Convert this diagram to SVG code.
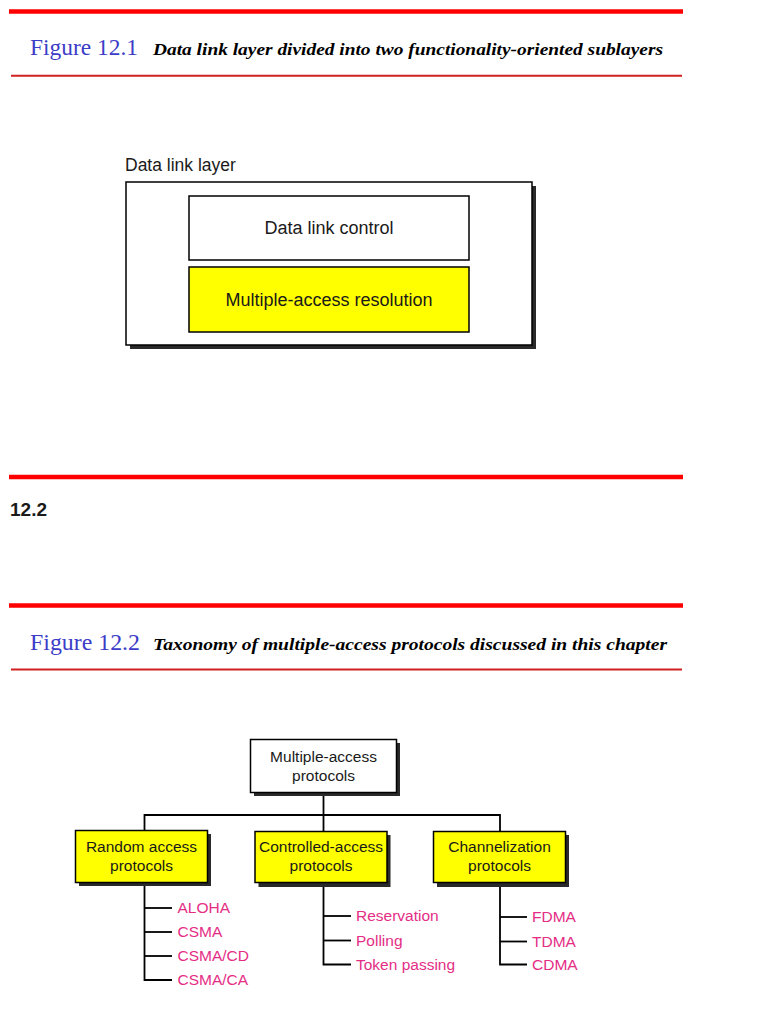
<svg xmlns="http://www.w3.org/2000/svg" width="768" height="1024" viewBox="0 0 768 1024">
<style>
.thick{stroke:#ff0000;stroke-width:4.5;fill:none}
.thin{stroke:#d02020;stroke-width:2;fill:none}
.fig{font-family:"Liberation Serif",serif;font-size:23px;fill:#3c3cc8}
.cap{font-family:"Liberation Serif",serif;font-size:16px;font-weight:bold;font-style:italic;fill:#000}
.box{fill:#fff;stroke:#000;stroke-width:1.5}
.ybox{fill:#ffff00;stroke:#000;stroke-width:1.5}
.shadow{fill:#2a2a2a}
.t{font-family:"Liberation Sans",Arial,sans-serif;fill:#1a1a1a}
.t17{font-size:17.5px}
.t18{font-size:18px}
.t15{font-size:15.5px;text-anchor:middle}
.lbl{font-family:"Liberation Sans",Arial,sans-serif;font-size:15.5px;fill:#e42d85}
.conn{stroke:#000;stroke-width:1.8;fill:none}
</style>
<rect width="768" height="1024" fill="#fff"/>
<g id="rules">
<line class="thick" x1="9" y1="11.5" x2="683" y2="11.5"/>
<line class="thin" x1="11" y1="75.7" x2="682" y2="75.7"/>
<line class="thick" x1="9" y1="477" x2="683" y2="477"/>
<line class="thick" x1="9" y1="605.5" x2="683" y2="605.5"/>
<line class="thin" x1="11" y1="669.5" x2="682" y2="669.5"/>
</g>
<g id="captions">
<text class="fig" x="30" y="55" textLength="108" lengthAdjust="spacingAndGlyphs">Figure 12.1</text>
<text class="cap" x="153" y="55" textLength="510" lengthAdjust="spacingAndGlyphs">Data link layer divided into two functionality-oriented sublayers</text>
<text x="10" y="516" font-family="'Liberation Sans',Arial,sans-serif" font-size="19" font-weight="bold" fill="#1a1a1a">12.2</text>
<text class="fig" x="30" y="650" textLength="110" lengthAdjust="spacingAndGlyphs">Figure 12.2</text>
<text class="cap" x="153" y="650" textLength="514" lengthAdjust="spacingAndGlyphs">Taxonomy of multiple-access protocols discussed in this chapter</text>
</g>
<g id="data-link-layer">
<text class="t t17" x="125" y="171">Data link layer</text>
<rect class="shadow" x="130" y="186" width="406" height="163"/>
<rect class="box" x="126" y="182" width="406" height="163"/>
</g>
<g id="data-link-control">
<rect class="box" x="189" y="196" width="280" height="64"/>
<text class="t t18" x="329" y="234" text-anchor="middle">Data link control</text>
</g>
<g id="mar">
<rect class="ybox" x="189" y="267" width="280" height="65"/>
<text class="t t18" x="329" y="306" text-anchor="middle">Multiple-access resolution</text>
</g>
<g id="connectors">
<line class="conn" x1="323.5" y1="792" x2="323.5" y2="831"/>
<polyline class="conn" points="144.5,831 144.5,815 500,815 500,831"/>
<polyline class="conn" points="144.5,883 144.5,980 172,980"/>
<line class="conn" x1="144.5" y1="908" x2="172" y2="908"/>
<line class="conn" x1="144.5" y1="932" x2="172" y2="932"/>
<line class="conn" x1="144.5" y1="956" x2="172" y2="956"/>
<polyline class="conn" points="323.5,883 323.5,964.5 351,964.5"/>
<line class="conn" x1="323.5" y1="916" x2="351" y2="916"/>
<line class="conn" x1="323.5" y1="940.5" x2="351" y2="940.5"/>
<polyline class="conn" points="500,883 500,964.5 527,964.5"/>
<line class="conn" x1="500" y1="917" x2="527" y2="917"/>
<line class="conn" x1="500" y1="941.5" x2="527" y2="941.5"/>
</g>
<g id="root">
<rect class="shadow" x="254" y="743" width="146" height="53"/>
<rect class="box" x="250.5" y="739.5" width="146" height="53"/>
<text class="t t15" x="323.5" y="762">Multiple-access</text>
<text class="t t15" x="323.5" y="781">protocols</text>
</g>
<g id="random">
<rect class="shadow" x="79" y="834" width="132" height="52"/>
<rect class="ybox" x="75.5" y="830.5" width="132" height="52"/>
<text class="t t15" x="141.5" y="852">Random access</text>
<text class="t t15" x="141.5" y="871">protocols</text>
</g>
<g id="controlled">
<rect class="shadow" x="258.5" y="835" width="132" height="52"/>
<rect class="ybox" x="255" y="831.5" width="132" height="51"/>
<text class="t t15" x="321" y="852">Controlled-access</text>
<text class="t t15" x="321" y="871">protocols</text>
</g>
<g id="channelization">
<rect class="shadow" x="437" y="835" width="132" height="52"/>
<rect class="ybox" x="433.5" y="831.5" width="132" height="51"/>
<text class="t t15" x="499.5" y="852">Channelization</text>
<text class="t t15" x="499.5" y="871">protocols</text>
</g>
<g id="labels">
<text class="lbl" x="177.5" y="913">ALOHA</text>
<text class="lbl" x="177.5" y="937">CSMA</text>
<text class="lbl" x="177.5" y="961">CSMA/CD</text>
<text class="lbl" x="177.5" y="985">CSMA/CA</text>
<text class="lbl" x="356" y="921">Reservation</text>
<text class="lbl" x="356" y="945.5">Polling</text>
<text class="lbl" x="356" y="969.5">Token passing</text>
<text class="lbl" x="532" y="922">FDMA</text>
<text class="lbl" x="532" y="946.5">TDMA</text>
<text class="lbl" x="532" y="969.5">CDMA</text>
</g>
</svg>
